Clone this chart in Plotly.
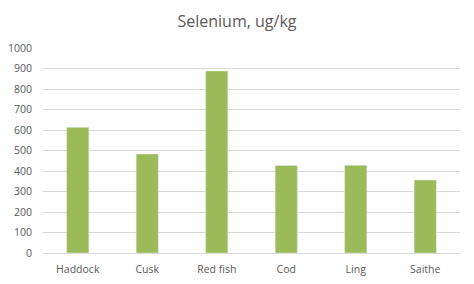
import plotly.graph_objects as go

categories = ["Haddock", "Cusk", "Red fish", "Cod", "Ling", "Saithe"]
values = [613, 483, 888, 427, 428, 356]
y_ticks = list(range(0, 1001, 100))

fig = go.Figure(go.Bar(x=categories, y=values, marker_color="#9BBB59"))

fig.update_layout(
    width=474, height=284,
    margin=dict(l=43, r=14, t=48, b=31),
    paper_bgcolor="white", plot_bgcolor="white",
    title=dict(text="Selenium, ug/kg", x=0.5, xanchor="center", y=0.925, yanchor="middle",
               font=dict(family="Open Sans", size=16, color="#595959")),
    bargap=0.68,
    showlegend=False,
    font=dict(family="Open Sans", size=10.5, color="#595959"),
)
fig.update_yaxes(range=[0, 1000], tickvals=y_ticks, showgrid=True, gridcolor="#D9D9D9",
                 gridwidth=1, zeroline=False, ticks="", ticklabelstandoff=10, automargin=False,
                 tickfont=dict(size=10.5, color="#595959"))
fig.update_xaxes(showline=True, linecolor="#D9D9D9", ticks="", ticklabelstandoff=6, automargin=False,
                 tickfont=dict(size=10.5, color="#595959"))

fig.write_html("out.html")
